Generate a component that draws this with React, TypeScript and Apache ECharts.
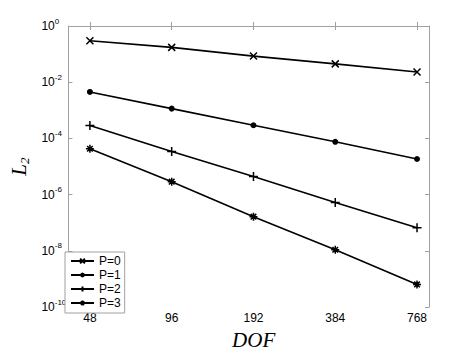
import React, { useEffect, useRef } from "react";
import * as echarts from "echarts";

const dof = [48, 96, 192, 384, 768];
const p0 = [0.3, 0.174, 0.085, 0.045, 0.023];
const p1 = [4.5e-3, 1.15e-3, 2.95e-4, 7.6e-5, 1.86e-5];
const p2 = [2.9e-4, 3.45e-5, 4.4e-6, 5.3e-7, 6.7e-8];
const p3 = [4.3e-5, 2.9e-6, 1.65e-7, 1.1e-8, 6.4e-10];
const seriesNames = ["P=0", "P=1", "P=2", "P=3"];
const xMin = 40;
const xMax = 850;
const yMinExp = -10;
const yMaxExp = 0;

const symCross = "path://M0,0L10,10M10,0L0,10";
const symPlus = "path://M5,0L5,10M0,5L10,5";
const symStar = "path://M5,0L5,10M0,5L10,5M1.5,1.5L8.5,8.5M8.5,1.5L1.5,8.5";

const AX = "#a0a0a0";

export default function App() {
  const ref = useRef<HTMLDivElement>(null);
  useEffect(() => {
    if (!ref.current) return;
    const chart = echarts.init(ref.current, null, { renderer: "svg" });
    const lx = (v: number) => Math.log2(v);
    const ly = (v: number) => Math.log10(v);
    const xTicks = dof.map(lx);
    const mk = (vals: number[]) => dof.map((d, i) => [lx(d), ly(vals[i])]);
    const all = [p0, p1, p2, p3];
    const symbols = [symCross, "circle", symPlus, symStar];
    const sizes = [7, 6, 9, 8];
    const baseX = {
      type: "value",
      min: lx(xMin),
      max: lx(xMax),
      axisLine: { show: true, lineStyle: { color: AX, width: 1 } },
      splitLine: { show: false },
    };
    const baseY = {
      type: "value",
      min: yMinExp,
      max: yMaxExp,
      interval: 2,
      axisLine: { show: true, lineStyle: { color: AX, width: 1 } },
      splitLine: { show: false },
    };
    chart.setOption({
      animation: false,
      backgroundColor: "#fff",
      grid: { left: 62, right: 45, top: 26, bottom: 40, containLabel: false },
      legend: {
        orient: "vertical",
        left: 65,
        top: 252,
        data: seriesNames,
        itemWidth: 23,
        itemHeight: 6,
        itemGap: 0,
        padding: [2, 4, 3, 5],
        borderColor: AX,
        borderWidth: 1,
        backgroundColor: "#fff",
        textStyle: { fontSize: 12, color: "#000", fontFamily: "Liberation Sans", lineHeight: 14 },
      },
      xAxis: [
        {
          ...baseX,
          position: "bottom",
          name: "DOF",
          nameLocation: "middle",
          nameGap: 10,
          nameTextStyle: {
            fontFamily: "Liberation Serif",
            fontStyle: "italic",
            fontSize: 21,
            color: "#000",
            padding: [0, 0, 0, 10],
          },
          axisTick: { show: true, inside: true, length: 4, customValues: xTicks, lineStyle: { color: AX } },
          axisLabel: {
            show: true,
            customValues: xTicks,
            margin: 5,
            fontSize: 12,
            color: "#000",
            fontFamily: "Liberation Sans",
            formatter: (v: number) => String(Math.round(Math.pow(2, v))),
          },
        },
        {
          ...baseX,
          position: "top",
          axisTick: { show: true, inside: true, length: 4, customValues: xTicks, lineStyle: { color: AX } },
          axisLabel: { show: false },
        },
      ],
      yAxis: [
        {
          ...baseY,
          position: "left",
          name: "{l|L}{s|2}",
          nameLocation: "middle",
          nameGap: 28,
          nameRotate: 90,
          nameTextStyle: {
            rich: {
              l: { fontFamily: "Liberation Serif", fontStyle: "italic", fontSize: 21, color: "#000", lineHeight: 24 },
              s: {
                fontFamily: "Liberation Serif",
                fontStyle: "italic",
                fontSize: 13,
                color: "#000",
                lineHeight: 24,
                verticalAlign: "bottom",
              },
            },
          },
          axisTick: { show: true, inside: true, length: 4, lineStyle: { color: AX } },
          axisLabel: {
            show: true,
            align: "left",
            margin: 27,
            formatter: (v: number) => `{b|10}{s|${v}}`,
            rich: {
              b: { fontSize: 12, color: "#000", fontFamily: "Liberation Sans", lineHeight: 18 },
              s: { fontSize: 8, color: "#000", fontFamily: "Liberation Sans", lineHeight: 18, verticalAlign: "top" },
            },
          },
        },
        {
          ...baseY,
          position: "right",
          axisTick: { show: true, inside: true, length: 4, lineStyle: { color: AX } },
          axisLabel: { show: false },
        },
      ],
      series: all.map((vals, i) => ({
        name: seriesNames[i],
        type: "line",
        xAxisIndex: 0,
        yAxisIndex: 0,
        data: mk(vals),
        symbol: symbols[i],
        symbolSize: sizes[i],
        showSymbol: true,
        lineStyle: { color: "#000", width: 1.6 },
        itemStyle: { color: "#000", borderColor: "#000", borderWidth: i === 1 ? 0 : 1.5 },
        emphasis: { disabled: true },
      })),
    });
    return () => chart.dispose();
  }, []);
  return <div ref={ref} style={{ width: 474, height: 355, margin: -8 }} />;
}
